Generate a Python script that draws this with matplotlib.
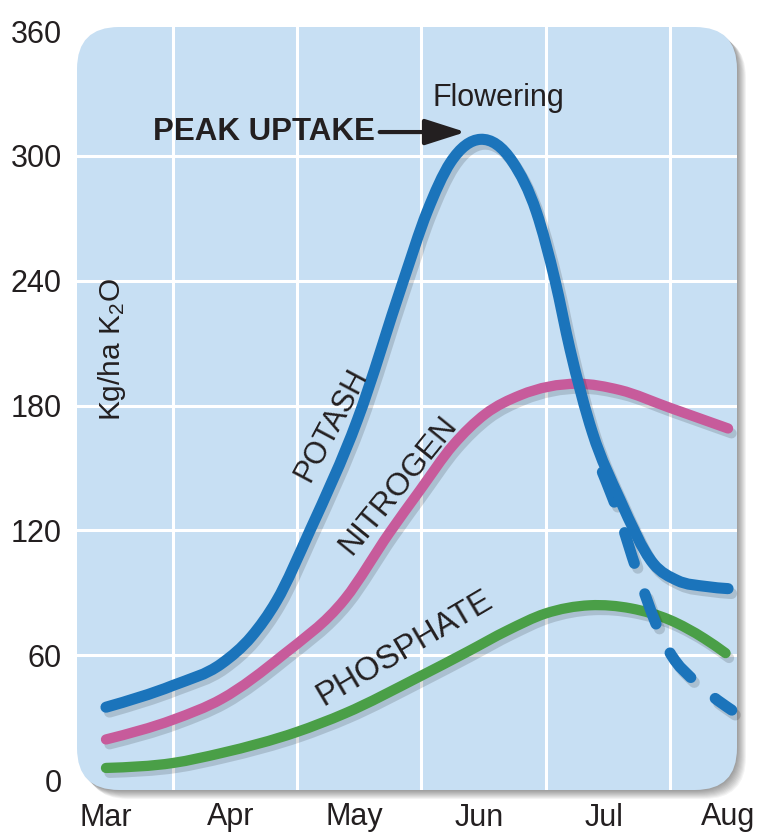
import matplotlib
matplotlib.use("Agg")
import matplotlib.pyplot as plt
from matplotlib.patches import FancyBboxPatch, PathPatch
from matplotlib.path import Path
from matplotlib.transforms import IdentityTransform
import matplotlib.patheffects as pe

plt.rcParams['font.family'] = ['Liberation Sans', 'DejaVu Sans']
plt.rcParams['mathtext.fontset'] = 'custom'
plt.rcParams['mathtext.rm'] = 'Liberation Sans'
plt.rcParams['mathtext.it'] = 'Liberation Sans:italic'

# ---- data (x in months from March) ----
months = ["Mar", "Apr", "May", "Jun", "Jul", "Aug"]
month_pos = [0, 1, 2, 3, 4, 5]
y_ticks = [0, 60, 120, 180, 240, 300, 360]

potash_x = [0, 0.54, 0.93, 1.17, 1.37, 1.64, 2.02, 2.39, 2.58, 2.77, 3.01,
            3.27, 3.46, 3.61, 3.73, 3.91, 4.13, 4.40, 4.59, 4.83, 5.0]
potash_y = [35, 45.5, 56, 69, 86, 120, 173, 240, 273, 297, 308,
            297, 273, 240, 207, 167, 135, 104, 96, 93, 92]

potash_alt_x = [3.99, 4.11, 4.27, 4.45, 4.53, 4.75, 4.88, 5.03]
potash_alt_y = [148, 129.5, 100, 71, 61.5, 46.6, 40, 33.6]

nitrogen_x = [0, 0.54, 0.93, 1.42, 1.92, 2.28, 2.52, 2.79, 3.05, 3.33, 3.79,
              4.13, 4.53, 5.0]
nitrogen_y = [19.5, 29, 39, 60, 87, 119, 139, 161, 176, 185, 190.5,
              187.5, 179, 169]

phosphate_x = [0, 0.54, 0.93, 1.53, 1.92, 2.52, 2.90, 3.23, 3.53, 3.89, 4.22, 4.53,
               4.81, 4.98]
phosphate_y = [5.8, 8.2, 13, 23, 32, 49.7, 61.5, 72, 80, 84, 82.5, 77,
               68, 61]

grid_x = [0.535, 1.535, 2.535, 3.535, 4.535]
grid_y = [60, 120, 180, 240, 300]

BLUE = '#1b74bb'
PINK = '#c75b9b'
GREEN = '#4a9f47'
PANEL = '#c7dff3'
TXT = '#231f20'


def smooth_path(xs, ys):
    """Smooth Bezier path through the read points (3-point parabola tangents)."""
    n = len(xs)
    h = [xs[i + 1] - xs[i] for i in range(n - 1)]
    d = [(ys[i + 1] - ys[i]) / h[i] for i in range(n - 1)]
    m = [0.0] * n
    for k in range(1, n - 1):
        m[k] = (h[k] * d[k - 1] + h[k - 1] * d[k]) / (h[k - 1] + h[k])
    m[0] = (3 * d[0] - m[1]) / 2 if n > 2 else d[0]
    m[-1] = (3 * d[-1] - m[-2]) / 2 if n > 2 else d[-1]
    verts = [(xs[0], ys[0])]
    codes = [Path.MOVETO]
    for i in range(n - 1):
        c1 = (xs[i] + h[i] / 3, ys[i] + m[i] * h[i] / 3)
        c2 = (xs[i + 1] - h[i] / 3, ys[i + 1] - m[i + 1] * h[i] / 3)
        verts += [c1, c2, (xs[i + 1], ys[i + 1])]
        codes += [Path.CURVE4] * 3
    return Path(verts, codes)


fig = plt.figure(figsize=(7.68, 8.4), dpi=100)
fig.patch.set_facecolor('white')
L, B, W, H = 77, 50, 660, 763
ax = fig.add_axes([L / 768, B / 840, W / 768, H / 840])
ax.set_facecolor('none')
ax.set_xlim(-0.233, 5.072)
ax.set_ylim(-4.8, 362)
for s in ax.spines.values():
    s.set_visible(False)

# panel shadow
for i in range(1, 11):
    sh = FancyBboxPatch((L + i * 0.9, B - i * 0.9), W, H,
                        boxstyle='round,pad=0,rounding_size=42',
                        transform=IdentityTransform(), facecolor='black',
                        edgecolor='none', alpha=0.045, zorder=0.1, clip_on=False)
    ax.add_patch(sh)
panel = FancyBboxPatch((L, B), W, H, boxstyle='round,pad=0,rounding_size=42',
                       transform=IdentityTransform(), facecolor=PANEL,
                       edgecolor='none', zorder=0.5, clip_on=False)
ax.add_patch(panel)

# grid
for gx in grid_x:
    ln = ax.axvline(gx, color='white', lw=2.2, zorder=1)
    ln.set_clip_path(panel)
for gy in grid_y:
    ln = ax.axhline(gy, color='white', lw=2.2, zorder=1)
    ln.set_clip_path(panel)

shadow = [pe.SimpleLineShadow(offset=(2.5, -3.5), shadow_color='black', alpha=0.14),
          pe.Normal()]


def draw_curve(xs, ys, color, lw, z, ls='solid'):
    p = PathPatch(smooth_path(xs, ys), fill=False, edgecolor=color, lw=lw,
                  capstyle='round', joinstyle='round', linestyle=ls, zorder=z,
                  path_effects=shadow, clip_on=False)
    ax.add_patch(p)


draw_curve(phosphate_x, phosphate_y, GREEN, 7.4, 3)
draw_curve(nitrogen_x, nitrogen_y, PINK, 7.4, 3)
draw_curve(potash_alt_x, potash_alt_y, BLUE, 8, 3.5, ls=(0, (2.9, 2.9)))
draw_curve(potash_x, potash_y, BLUE, 8, 4)

# ticks
ax.set_xticks(month_pos)
ax.set_xticklabels(months, fontsize=22, color=TXT)
ax.set_yticks(y_ticks)
ax.set_yticklabels([str(v) for v in y_ticks], fontsize=22, color=TXT)
ax.tick_params(axis='both', length=0)
ax.tick_params(axis='y', pad=11)
ax.tick_params(axis='x', pad=9)

# labels
ax.text(0.048, 207, r'Kg/ha K$_\mathregular{2}$O', rotation=90, fontsize=21.5,
        color=TXT, ha='center', va='center', zorder=5)
ax.text(1.27, 311.5, 'PEAK UPTAKE', fontsize=22.5, fontweight='bold', color=TXT,
        ha='center', va='center', zorder=5)
ax.text(3.15, 328, 'Flowering', fontsize=22, color=TXT, ha='center', va='center', zorder=5)
ax.annotate('', xy=(2.89, 311.5), xytext=(2.20, 311.5),
            arrowprops=dict(arrowstyle='-|>,head_length=1.0,head_width=0.32',
                            mutation_scale=25, lw=3, color=TXT, shrinkA=0, shrinkB=0),
            zorder=5)
ax.text(1.81, 170.7, 'POTASH', rotation=62, fontsize=22, color=TXT,
        ha='center', va='center', rotation_mode='anchor', zorder=5)
ax.text(2.35, 141.8, 'NITROGEN', rotation=51, fontsize=23, color=TXT,
        ha='center', va='center', rotation_mode='anchor', zorder=5)
ax.text(2.40, 63.5, 'PHOSPHATE', rotation=30.5, fontsize=23.5, color=TXT,
        ha='center', va='center', rotation_mode='anchor', zorder=5)

fig.savefig('out.png', dpi=100)
